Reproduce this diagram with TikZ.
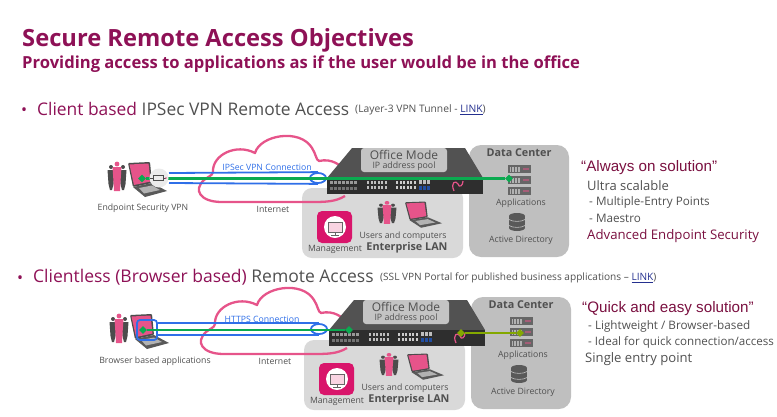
\documentclass[tikz,border=0pt]{standalone}
\usepackage{fontspec}
\setmainfont{Open Sans}
\newfontfamily\quotefont{Liberation Sans}
\usetikzlibrary{shapes.geometric}

\definecolor{plum}{HTML}{8E1156}
\definecolor{wine}{HTML}{7A1040}
\definecolor{slate}{HTML}{505050}
\definecolor{rose}{HTML}{E6548A}
\definecolor{fuchsia}{HTML}{D9156B}
\definecolor{tunnel}{HTML}{2F6FE8}
\definecolor{vpngreen}{HTML}{0BAA50}
\definecolor{olive}{HTML}{84A800}
\definecolor{linkblue}{HTML}{24308F}

\newcommand{\fs}[1]{\fontsize{#1}{#1}\selectfont}
\newcommand{\lnk}[1]{\textcolor{linkblue}{\underline{#1}}}

\tikzset{
  txt/.style={inner sep=0pt,anchor=west,text=slate},
  lbl/.style={inner sep=0pt,text=slate,font=\fs{8.7}},
  dot/.style={diamond,inner sep=0pt,minimum size=8pt},
  pipe/.style={draw=tunnel,line width=1.8pt},
  flow/.style={draw=vpngreen,line width=2.6pt},
  pics/people/.style={code={
    \foreach \x in {-6,6}
    {
      \fill[black!70] (\x,-10) circle (2);
      \fill[black!70] (\x-3.5,-7) -- (\x+3.5,-7) -- (\x+2.5,7) -- (\x+1,13) -- (\x-1,13) -- (\x-2.5,7) -- cycle;
    }
    \fill[rose] (0,-13) circle (2.4);
    \fill[rose] (-4.5,-10) -- (4.5,-10) -- (3.5,5) -- (3,14) -- (-3,14) -- (-3.5,5) -- cycle;
  }},
  pics/laptop/.style={code={
    \fill[black!70,rounded corners=1pt] (-19,-17) -- (3,-18) -- (5,3) -- (-14,7) -- cycle;
    \fill[rose] (-17.5,-15.5) -- (1.5,-16.5) -- (3.5,1.5) -- (-13,5) -- cycle;
    \fill[black!65] (-14,7) -- (5,3) -- (20,11) -- (-2,17) -- cycle;
    \fill[black!30] (-8,8) -- (5,5.5) -- (13,10) -- (-3,13.5) -- cycle;
  }},
  pics/servers/.style={code={
    \foreach \y in {0,11,22}
    {
      \fill[black!60] (0,\y) rectangle (23,\y+8);
      \foreach \x in {2,3.5,...,11} {\fill[white!70!black] (\x,\y+1.5) rectangle (\x+.7,\y+6.5);}
      \foreach \x in {16,18,20} {\fill[rose] (\x,\y+4) circle (.8);}
    }
  }}
}

% what both rows have in common, at the coordinates of the upper row
\newcommand{\siterow}{
  \fill[black!15,rounded corners=10pt] (302,188) rectangle (463,258);
  \fill[black!25,rounded corners=12pt] (469,145) rectangle (569,257);
  \draw[rose,line width=2.3pt,line join=round] (345,196) .. controls (335,202) and (325,202) .. (310,202)
    -- (222,202) .. controls (200,202) and (193,190) .. (204,180)
    .. controls (209,176) and (212,176) .. (213,172)
    .. controls (212,155) and (236,143) .. (255,153)
    .. controls (260,135) and (300,128) .. (312,148)
    .. controls (316,154) and (316,160) .. (319,161)
    .. controls (332,158) and (340,165) .. (348,172);
  \node[lbl] (cloudlabel) at (273,209) {Internet};
  % chassis
  \fill[black!68] (352,148) -- (465,148) -- (483,178) -- (327,178) -- cycle;
  \fill[black!82] (327,178) rectangle (483,194);
  \foreach \x in {330,334,...,354} {\fill[black!40] (\x,181) rectangle (\x+2.6,184); \fill[black!55] (\x,187) rectangle (\x+2.6,190);}
  \foreach \x in {367,370.5,...,385} {\fill[black!25] (\x,181) rectangle (\x+2.4,184); \fill[black!25] (\x,186) rectangle (\x+2.4,189);}
  \foreach \x in {396,399.5,...,414} {\fill[black!20] (\x,181) rectangle (\x+2.4,184); \fill[black!20] (\x,186) rectangle (\x+2.4,189);}
  \foreach \x in {419,423,427} {\fill[black!25] (\x,180) rectangle (\x+2.5,184); \fill[tunnel!70!black] (\x,186) rectangle (\x+2.5,190);}
  \draw[rose,line width=1.2pt] (454,191) .. controls (450,182) and (456,180) .. (458,184) .. controls (459,188) and (463,186) .. (463,181);
  \fill[black!23,rounded corners=3pt] (361,148) rectangle (447,172);
  \node[lbl,font=\fs{12}] (poolname) at (404,155) {Office Mode};
  \node[lbl,font=\fs{8.8}] (poolsub) at (404,166) {IP address pool};
  % enterprise side
  \fill[fuchsia,rounded corners=5pt] (317,211) rectangle (352,243);
  \fill[white] (335,227) circle (11);
  \draw[black!60,line width=.7pt,fill=rose!25] (328,222) rectangle (342,232);
  \draw[black!60,line width=.7pt] (335,232) -- (335,235) (331,235) -- (339,235);
  \node[lbl] (mgmt) at (335,249) {Management};
  \pic[yscale=.78] at (387,213) {people};
  \pic[xscale=.95,yscale=.75] at (423,215) {laptop};
  \node[lbl] (users) at (403,236) {Users and computers};
  \node[lbl,font=\bfseries\fs{10.8}] (lan) at (407,248) {Enterprise LAN};
  % data center side
  \node[lbl,font=\bfseries\fs{10.8}] (dc) at (519,153) {Data Center};
  \pic at (508,165) {servers};
  \node[lbl] (apps) at (521,203) {Applications};
  \fill[black!65] (509,216) rectangle (525,228);
  \foreach \y in {216,222,228} {\fill[black!65] (517,\y) ellipse (8 and 3);}
  \foreach \y in {219.5,225.5} {\draw[black!25,line width=.6pt] (509,\y) .. controls (512,\y+2.5) and (522,\y+2.5) .. (525,\y);}
  \node[lbl] (ad) at (521,240) {Active Directory};
  % user side
  \pic at (117,177) {people};
  \pic at (147,180) {laptop};
}

\begin{document}
\begin{tikzpicture}[x=1pt,y=-1pt]
\useasboundingbox (0,0) rectangle (777,416);

\node[txt,text=plum,font=\bfseries\fs{23.7}] (title) at (22,40) {Secure Remote Access Objectives};
\node[txt,text=plum,font=\bfseries\fs{16.6}] (subtitle) at (22,64) {Providing access to applications as if the user would be in the office};

\node[txt,text=plum,font=\fs{16}] (bulleta) at (21,112) {•};
\node[txt,font=\fs{17.4}] (heada) at (37,109) {\textcolor{plum}{Client based} IPSec VPN Remote Access};
\node[txt,font=\fs{10.3}] (nota) at (355,110) {(Layer-3 VPN Tunnel - \lnk{LINK})};
\node[txt,text=plum,font=\fs{16}] (bulletb) at (17,280) {•};
\node[txt,font=\fs{17.5}] (headb) at (33,277) {\textcolor{plum}{Clientless (Browser based)} Remote Access};
\node[txt,font=\fs{10.1}] (noteb) at (380,278) {(SSL VPN Portal for published business applications – \lnk{LINK})};

% upper row
\begin{scope}[name prefix=a-]
\siterow
\node[lbl] (client) at (143,208) {Endpoint Security VPN};
\node[ellipse,draw=tunnel,line width=1.8pt,minimum width=16pt,minimum height=10pt,inner sep=0pt] (tunend) at (318,178) {};
\coordinate (tuntop) at (169,173);
\coordinate (tunbot) at (169,183);
\draw[pipe] (tuntop) -- (tunend.north);
\draw[pipe] (tunbot) -- (tunend.south);
\node[lbl,text=tunnel] (conn) at (267,167) {IPSec VPN Connection};
\node[dot,fill=vpngreen] (userdot) at (142,178.5) {};
\node[dot,fill=vpngreen] (appdot) at (509,178.5) {};
\draw[flow] (userdot) -- (appdot);
\node[circle,fill=black!8,minimum size=19pt,inner sep=0pt] (agent) at (159,178) {};
\draw[black!70,line width=.6pt] (153,175.5) rectangle (163,180.5) (150,178) -- (153,178) (163,178) -- (166,178);
\fill[rose] (166,178) circle (.9);
\end{scope}

% lower row
\begin{scope}[shift={(2,152)},name prefix=b-]
\siterow
\node[lbl] (client) at (153,209) {Browser based applications};
\node[ellipse,draw=tunnel,line width=1.8pt,minimum width=16pt,minimum height=10pt,inner sep=0pt] (tunend) at (317,177) {};
\node[draw=tunnel,line width=1.8pt,rounded corners=3pt,minimum width=20pt,minimum height=20pt,inner sep=0pt] (tunbox) at (145,178) {};
\draw[pipe] (tunbox.east |- tunend.north) -- (tunend.north);
\draw[pipe] (tunbox.east |- tunend.south) -- (tunend.south);
\node[lbl,text=tunnel] (conn) at (260,167) {HTTPS Connection};
\node[dot,fill=vpngreen] (userdot) at (141,178) {};
\node[dot,fill=vpngreen] (landot) at (347,178) {};
\draw[flow] (userdot) -- (landot);
\node[dot,fill=olive] (gwdot) at (459,181) {};
\node[dot,fill=olive] (appdot) at (518,181) {};
\draw[flow,draw=olive] (gwdot) -- (appdot);
\end{scope}

% right column
\node[txt,text=wine,font=\quotefont\fs{15.2}] (claima) at (581,168) {“Always on solution”};
\node[txt,font=\fs{13}] (ultra) at (587,186) {Ultra scalable};
\node[txt,font=\fs{11.7}] (multi) at (589,202) {- Multiple-Entry Points};
\node[txt,font=\fs{11.7}] (maestro) at (589,218) {- Maestro};
\node[txt,text=wine,font=\fs{13.2}] (endpoint) at (587,236) {Advanced Endpoint Security};
\node[txt,text=wine,font=\quotefont\fs{15.2}] (claimb) at (582,309) {“Quick and easy solution”};
\node[txt,font=\fs{11.7}] (light) at (588,326) {- Lightweight / Browser-based};
\node[txt,font=\fs{11.6}] (ideal) at (588,342) {- Ideal for quick connection/access};
\node[txt,font=\fs{13.1}] (single) at (585,359) {Single entry point};

\end{tikzpicture}
\end{document}
